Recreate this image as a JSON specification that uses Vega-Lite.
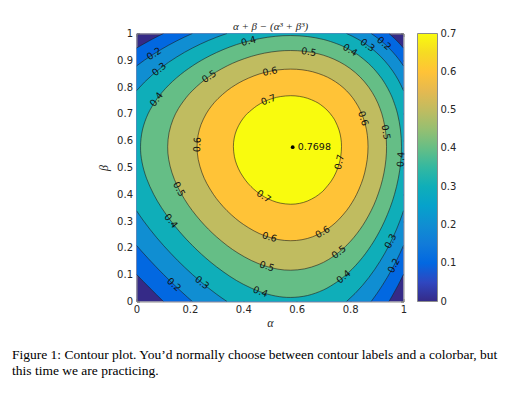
{
"$schema": "https://vega.github.io/schema/vega-lite/v6.json",
"width": 267, "height": 268,
"autosize": "none",
"padding": {"left": 136.5, "top": 33.5, "right": 110.5, "bottom": 96.5},
"background": "white",
"title": {"text": ["Figure 1: Contour plot.  You’d normally choose between contour labels and a colorbar, but", "this time we are practicing."], "orient": "bottom", "anchor": "start", "frame": "group", "align": "left", "dx": -124.5, "offset": 19, "font": "Liberation Serif", "fontSize": 13.5, "fontWeight": "normal", "color": "#000000", "lineHeight": 16},
"config": {
  "view": {"fill": "#352a87", "stroke": null},
  "axis": {"grid": false, "zindex": 1, "labelFlush": false, "labelFont": "DejaVu Sans", "labelFontSize": 10, "labelColor": "#262626", "domainColor": "#8c8c8c", "domainWidth": 1, "tickColor": "#555555", "tickWidth": 0.8},
  "legend": {"labelFont": "DejaVu Sans", "labelFontSize": 10, "labelColor": "#262626"}
},
"data": {"values": [
{"l":0.1,"s":"1BL","i":0,"a":0,"b":0.101},
{"l":0.1,"s":"1BL","i":1,"a":0.0254,"b":0.075},
{"l":0.1,"s":"1BL","i":2,"a":0.0501,"b":0.0501},
{"l":0.1,"s":"1BL","i":3,"a":0.075,"b":0.0254},
{"l":0.1,"s":"1BL","i":4,"a":0.101,"b":0},
{"l":0.1,"s":"1BR","i":5,"a":0.9457,"b":0},
{"l":0.1,"s":"1BR","i":6,"a":0.9573,"b":0.02},
{"l":0.1,"s":"1BR","i":7,"a":0.9685,"b":0.04},
{"l":0.1,"s":"1BR","i":8,"a":0.9793,"b":0.06},
{"l":0.1,"s":"1BR","i":9,"a":0.9896,"b":0.08},
{"l":0.1,"s":"1BR","i":10,"a":1,"b":0.101},
{"l":0.1,"s":"1TR","i":11,"a":1,"b":0.9457},
{"l":0.1,"s":"1TR","i":12,"a":0.99,"b":0.9571},
{"l":0.1,"s":"1TR","i":13,"a":0.98,"b":0.9679},
{"l":0.1,"s":"1TR","i":14,"a":0.974,"b":0.974},
{"l":0.1,"s":"1TR","i":15,"a":0.9679,"b":0.98},
{"l":0.1,"s":"1TR","i":16,"a":0.9571,"b":0.99},
{"l":0.1,"s":"1TR","i":17,"a":0.9457,"b":1},
{"l":0.1,"s":"1TL","i":18,"a":0.101,"b":1},
{"l":0.1,"s":"1TL","i":19,"a":0.08,"b":0.9896},
{"l":0.1,"s":"1TL","i":20,"a":0.06,"b":0.9793},
{"l":0.1,"s":"1TL","i":21,"a":0.04,"b":0.9685},
{"l":0.1,"s":"1TL","i":22,"a":0.02,"b":0.9573},
{"l":0.1,"s":"1TL","i":23,"a":0,"b":0.9457},
{"l":0.2,"s":"2BL","i":0,"a":0,"b":0.2092},
{"l":0.2,"s":"2BL","i":1,"a":0.0169,"b":0.19},
{"l":0.2,"s":"2BL","i":2,"a":0.0442,"b":0.16},
{"l":0.2,"s":"2BL","i":3,"a":0.0726,"b":0.13},
{"l":0.2,"s":"2BL","i":4,"a":0.101,"b":0.101},
{"l":0.2,"s":"2BL","i":5,"a":0.13,"b":0.0726},
{"l":0.2,"s":"2BL","i":6,"a":0.16,"b":0.0442},
{"l":0.2,"s":"2BL","i":7,"a":0.19,"b":0.0169},
{"l":0.2,"s":"2BL","i":8,"a":0.2092,"b":0},
{"l":0.2,"s":"2BR","i":9,"a":0.8789,"b":0},
{"l":0.2,"s":"2BR","i":10,"a":0.9007,"b":0.03},
{"l":0.2,"s":"2BR","i":11,"a":0.9207,"b":0.06},
{"l":0.2,"s":"2BR","i":12,"a":0.9392,"b":0.09},
{"l":0.2,"s":"2BR","i":13,"a":0.9563,"b":0.12},
{"l":0.2,"s":"2BR","i":14,"a":0.9722,"b":0.15},
{"l":0.2,"s":"2BR","i":15,"a":0.9868,"b":0.18},
{"l":0.2,"s":"2BR","i":16,"a":1,"b":0.2092},
{"l":0.2,"s":"2TR","i":17,"a":1,"b":0.8789},
{"l":0.2,"s":"2TR","i":18,"a":0.99,"b":0.8934},
{"l":0.2,"s":"2TR","i":19,"a":0.98,"b":0.9068},
{"l":0.2,"s":"2TR","i":20,"a":0.97,"b":0.9191},
{"l":0.2,"s":"2TR","i":21,"a":0.96,"b":0.9306},
{"l":0.2,"s":"2TR","i":22,"a":0.9457,"b":0.9457},
{"l":0.2,"s":"2TR","i":23,"a":0.9306,"b":0.96},
{"l":0.2,"s":"2TR","i":24,"a":0.9191,"b":0.97},
{"l":0.2,"s":"2TR","i":25,"a":0.9068,"b":0.98},
{"l":0.2,"s":"2TR","i":26,"a":0.8934,"b":0.99},
{"l":0.2,"s":"2TR","i":27,"a":0.8789,"b":1},
{"l":0.2,"s":"2TL","i":28,"a":0.2092,"b":1},
{"l":0.2,"s":"2TL","i":29,"a":0.18,"b":0.9868},
{"l":0.2,"s":"2TL","i":30,"a":0.15,"b":0.9722},
{"l":0.2,"s":"2TL","i":31,"a":0.12,"b":0.9563},
{"l":0.2,"s":"2TL","i":32,"a":0.09,"b":0.9392},
{"l":0.2,"s":"2TL","i":33,"a":0.06,"b":0.9207},
{"l":0.2,"s":"2TL","i":34,"a":0.03,"b":0.9007},
{"l":0.2,"s":"2TL","i":35,"a":0,"b":0.8789},
{"l":0.3,"s":"3BL","i":0,"a":0,"b":0.3389},
{"l":0.3,"s":"3BL","i":1,"a":0.0128,"b":0.32},
{"l":0.3,"s":"3BL","i":2,"a":0.027,"b":0.3},
{"l":0.3,"s":"3BL","i":3,"a":0.0498,"b":0.27},
{"l":0.3,"s":"3BL","i":4,"a":0.0742,"b":0.24},
{"l":0.3,"s":"3BL","i":5,"a":0.1003,"b":0.21},
{"l":0.3,"s":"3BL","i":6,"a":0.128,"b":0.18},
{"l":0.3,"s":"3BL","i":7,"a":0.1536,"b":0.1536},
{"l":0.3,"s":"3BL","i":8,"a":0.18,"b":0.128},
{"l":0.3,"s":"3BL","i":9,"a":0.21,"b":0.1003},
{"l":0.3,"s":"3BL","i":10,"a":0.24,"b":0.0742},
{"l":0.3,"s":"3BL","i":11,"a":0.27,"b":0.0498},
{"l":0.3,"s":"3BL","i":12,"a":0.3,"b":0.027},
{"l":0.3,"s":"3BL","i":13,"a":0.32,"b":0.0128},
{"l":0.3,"s":"3BL","i":14,"a":0.3389,"b":0},
{"l":0.3,"s":"3BR","i":15,"a":0.7865,"b":0},
{"l":0.3,"s":"3BR","i":16,"a":0.8186,"b":0.03},
{"l":0.3,"s":"3BR","i":17,"a":0.8463,"b":0.06},
{"l":0.3,"s":"3BR","i":18,"a":0.8706,"b":0.09},
{"l":0.3,"s":"3BR","i":19,"a":0.8924,"b":0.12},
{"l":0.3,"s":"3BR","i":20,"a":0.912,"b":0.15},
{"l":0.3,"s":"3BR","i":21,"a":0.9299,"b":0.18},
{"l":0.3,"s":"3BR","i":22,"a":0.9461,"b":0.21},
{"l":0.3,"s":"3BR","i":23,"a":0.9608,"b":0.24},
{"l":0.3,"s":"3BR","i":24,"a":0.9742,"b":0.27},
{"l":0.3,"s":"3BR","i":25,"a":0.9862,"b":0.3},
{"l":0.3,"s":"3BR","i":26,"a":0.9936,"b":0.32},
{"l":0.3,"s":"3BR","i":27,"a":1,"b":0.3389},
{"l":0.3,"s":"3TR","i":28,"a":1,"b":0.7865},
{"l":0.3,"s":"3TR","i":29,"a":0.99,"b":0.8082},
{"l":0.3,"s":"3TR","i":30,"a":0.98,"b":0.8272},
{"l":0.3,"s":"3TR","i":31,"a":0.97,"b":0.8441},
{"l":0.3,"s":"3TR","i":32,"a":0.96,"b":0.8594},
{"l":0.3,"s":"3TR","i":33,"a":0.945,"b":0.8797},
{"l":0.3,"s":"3TR","i":34,"a":0.93,"b":0.8976},
{"l":0.3,"s":"3TR","i":35,"a":0.9143,"b":0.9143},
{"l":0.3,"s":"3TR","i":36,"a":0.8976,"b":0.93},
{"l":0.3,"s":"3TR","i":37,"a":0.8797,"b":0.945},
{"l":0.3,"s":"3TR","i":38,"a":0.8594,"b":0.96},
{"l":0.3,"s":"3TR","i":39,"a":0.8441,"b":0.97},
{"l":0.3,"s":"3TR","i":40,"a":0.8272,"b":0.98},
{"l":0.3,"s":"3TR","i":41,"a":0.8082,"b":0.99},
{"l":0.3,"s":"3TR","i":42,"a":0.7865,"b":1},
{"l":0.3,"s":"3TL","i":43,"a":0.3389,"b":1},
{"l":0.3,"s":"3TL","i":44,"a":0.32,"b":0.9936},
{"l":0.3,"s":"3TL","i":45,"a":0.3,"b":0.9862},
{"l":0.3,"s":"3TL","i":46,"a":0.27,"b":0.9742},
{"l":0.3,"s":"3TL","i":47,"a":0.24,"b":0.9608},
{"l":0.3,"s":"3TL","i":48,"a":0.21,"b":0.9461},
{"l":0.3,"s":"3TL","i":49,"a":0.18,"b":0.9299},
{"l":0.3,"s":"3TL","i":50,"a":0.15,"b":0.912},
{"l":0.3,"s":"3TL","i":51,"a":0.12,"b":0.8924},
{"l":0.3,"s":"3TL","i":52,"a":0.09,"b":0.8706},
{"l":0.3,"s":"3TL","i":53,"a":0.06,"b":0.8463},
{"l":0.3,"s":"3TL","i":54,"a":0.03,"b":0.8186},
{"l":0.3,"s":"3TL","i":55,"a":0,"b":0.7865},
{"l":0.4,"s":"4","i":0,"a":0.2092,"b":0.2092},
{"l":0.4,"s":"4","i":1,"a":0.23,"b":0.1889},
{"l":0.4,"s":"4","i":2,"a":0.26,"b":0.1618},
{"l":0.4,"s":"4","i":3,"a":0.3,"b":0.1292},
{"l":0.4,"s":"4","i":4,"a":0.35,"b":0.0937},
{"l":0.4,"s":"4","i":5,"a":0.4,"b":0.0643},
{"l":0.4,"s":"4","i":6,"a":0.46,"b":0.0374},
{"l":0.4,"s":"4","i":7,"a":0.52,"b":0.0206},
{"l":0.4,"s":"4","i":8,"a":0.5774,"b":0.0151},
{"l":0.4,"s":"4","i":9,"a":0.64,"b":0.0222},
{"l":0.4,"s":"4","i":10,"a":0.7,"b":0.0431},
{"l":0.4,"s":"4","i":11,"a":0.75,"b":0.0723},
{"l":0.4,"s":"4","i":12,"a":0.78,"b":0.0954},
{"l":0.4,"s":"4","i":13,"a":0.8075,"b":0.1208},
{"l":0.4,"s":"4","i":14,"a":0.8345,"b":0.15},
{"l":0.4,"s":"4","i":15,"a":0.8585,"b":0.18},
{"l":0.4,"s":"4","i":16,"a":0.8789,"b":0.2092},
{"l":0.4,"s":"4","i":17,"a":0.8921,"b":0.23},
{"l":0.4,"s":"4","i":18,"a":0.9092,"b":0.26},
{"l":0.4,"s":"4","i":19,"a":0.9291,"b":0.3},
{"l":0.4,"s":"4","i":20,"a":0.9499,"b":0.35},
{"l":0.4,"s":"4","i":21,"a":0.9663,"b":0.4},
{"l":0.4,"s":"4","i":22,"a":0.9808,"b":0.46},
{"l":0.4,"s":"4","i":23,"a":0.9895,"b":0.52},
{"l":0.4,"s":"4","i":24,"a":0.9924,"b":0.5774},
{"l":0.4,"s":"4","i":25,"a":0.9887,"b":0.64},
{"l":0.4,"s":"4","i":26,"a":0.9778,"b":0.7},
{"l":0.4,"s":"4","i":27,"a":0.9619,"b":0.75},
{"l":0.4,"s":"4","i":28,"a":0.9489,"b":0.78},
{"l":0.4,"s":"4","i":29,"a":0.9326,"b":0.81},
{"l":0.4,"s":"4","i":30,"a":0.9125,"b":0.84},
{"l":0.4,"s":"4","i":31,"a":0.8789,"b":0.8789},
{"l":0.4,"s":"4","i":32,"a":0.84,"b":0.9125},
{"l":0.4,"s":"4","i":33,"a":0.81,"b":0.9326},
{"l":0.4,"s":"4","i":34,"a":0.78,"b":0.9489},
{"l":0.4,"s":"4","i":35,"a":0.75,"b":0.9619},
{"l":0.4,"s":"4","i":36,"a":0.7,"b":0.9778},
{"l":0.4,"s":"4","i":37,"a":0.64,"b":0.9887},
{"l":0.4,"s":"4","i":38,"a":0.5774,"b":0.9924},
{"l":0.4,"s":"4","i":39,"a":0.52,"b":0.9895},
{"l":0.4,"s":"4","i":40,"a":0.46,"b":0.9808},
{"l":0.4,"s":"4","i":41,"a":0.4,"b":0.9663},
{"l":0.4,"s":"4","i":42,"a":0.35,"b":0.9499},
{"l":0.4,"s":"4","i":43,"a":0.3,"b":0.9291},
{"l":0.4,"s":"4","i":44,"a":0.26,"b":0.9092},
{"l":0.4,"s":"4","i":45,"a":0.23,"b":0.8921},
{"l":0.4,"s":"4","i":46,"a":0.2092,"b":0.8789},
{"l":0.4,"s":"4","i":47,"a":0.18,"b":0.8585},
{"l":0.4,"s":"4","i":48,"a":0.15,"b":0.8345},
{"l":0.4,"s":"4","i":49,"a":0.1208,"b":0.8075},
{"l":0.4,"s":"4","i":50,"a":0.0954,"b":0.78},
{"l":0.4,"s":"4","i":51,"a":0.0723,"b":0.75},
{"l":0.4,"s":"4","i":52,"a":0.0431,"b":0.7},
{"l":0.4,"s":"4","i":53,"a":0.0222,"b":0.64},
{"l":0.4,"s":"4","i":54,"a":0.0151,"b":0.5774},
{"l":0.4,"s":"4","i":55,"a":0.0206,"b":0.52},
{"l":0.4,"s":"4","i":56,"a":0.0374,"b":0.46},
{"l":0.4,"s":"4","i":57,"a":0.0643,"b":0.4},
{"l":0.4,"s":"4","i":58,"a":0.0937,"b":0.35},
{"l":0.4,"s":"4","i":59,"a":0.1292,"b":0.3},
{"l":0.4,"s":"4","i":60,"a":0.1618,"b":0.26},
{"l":0.4,"s":"4","i":61,"a":0.1889,"b":0.23},
{"l":0.5,"s":"5","i":0,"a":0.2696,"b":0.2696},
{"l":0.5,"s":"5","i":1,"a":0.3,"b":0.241},
{"l":0.5,"s":"5","i":2,"a":0.34,"b":0.2083},
{"l":0.5,"s":"5","i":3,"a":0.38,"b":0.1808},
{"l":0.5,"s":"5","i":4,"a":0.43,"b":0.1531},
{"l":0.5,"s":"5","i":5,"a":0.48,"b":0.133},
{"l":0.5,"s":"5","i":6,"a":0.53,"b":0.1206},
{"l":0.5,"s":"5","i":7,"a":0.5774,"b":0.1167},
{"l":0.5,"s":"5","i":8,"a":0.63,"b":0.1219},
{"l":0.5,"s":"5","i":9,"a":0.68,"b":0.137},
{"l":0.5,"s":"5","i":10,"a":0.72,"b":0.1571},
{"l":0.5,"s":"5","i":11,"a":0.76,"b":0.1854},
{"l":0.5,"s":"5","i":12,"a":0.7887,"b":0.2113},
{"l":0.5,"s":"5","i":13,"a":0.8148,"b":0.24},
{"l":0.5,"s":"5","i":14,"a":0.8379,"b":0.27},
{"l":0.5,"s":"5","i":15,"a":0.8575,"b":0.3},
{"l":0.5,"s":"5","i":16,"a":0.8794,"b":0.34},
{"l":0.5,"s":"5","i":17,"a":0.8973,"b":0.38},
{"l":0.5,"s":"5","i":18,"a":0.9146,"b":0.43},
{"l":0.5,"s":"5","i":19,"a":0.9269,"b":0.48},
{"l":0.5,"s":"5","i":20,"a":0.9342,"b":0.53},
{"l":0.5,"s":"5","i":21,"a":0.9365,"b":0.5774},
{"l":0.5,"s":"5","i":22,"a":0.9335,"b":0.63},
{"l":0.5,"s":"5","i":23,"a":0.9244,"b":0.68},
{"l":0.5,"s":"5","i":24,"a":0.9121,"b":0.72},
{"l":0.5,"s":"5","i":25,"a":0.8944,"b":0.76},
{"l":0.5,"s":"5","i":26,"a":0.8696,"b":0.8},
{"l":0.5,"s":"5","i":27,"a":0.8376,"b":0.8376},
{"l":0.5,"s":"5","i":28,"a":0.8,"b":0.8696},
{"l":0.5,"s":"5","i":29,"a":0.76,"b":0.8944},
{"l":0.5,"s":"5","i":30,"a":0.72,"b":0.9121},
{"l":0.5,"s":"5","i":31,"a":0.68,"b":0.9244},
{"l":0.5,"s":"5","i":32,"a":0.63,"b":0.9335},
{"l":0.5,"s":"5","i":33,"a":0.5774,"b":0.9365},
{"l":0.5,"s":"5","i":34,"a":0.53,"b":0.9342},
{"l":0.5,"s":"5","i":35,"a":0.48,"b":0.9269},
{"l":0.5,"s":"5","i":36,"a":0.43,"b":0.9146},
{"l":0.5,"s":"5","i":37,"a":0.38,"b":0.8973},
{"l":0.5,"s":"5","i":38,"a":0.34,"b":0.8794},
{"l":0.5,"s":"5","i":39,"a":0.3,"b":0.8575},
{"l":0.5,"s":"5","i":40,"a":0.27,"b":0.8379},
{"l":0.5,"s":"5","i":41,"a":0.24,"b":0.8148},
{"l":0.5,"s":"5","i":42,"a":0.2113,"b":0.7887},
{"l":0.5,"s":"5","i":43,"a":0.1854,"b":0.76},
{"l":0.5,"s":"5","i":44,"a":0.1571,"b":0.72},
{"l":0.5,"s":"5","i":45,"a":0.137,"b":0.68},
{"l":0.5,"s":"5","i":46,"a":0.1219,"b":0.63},
{"l":0.5,"s":"5","i":47,"a":0.1167,"b":0.5774},
{"l":0.5,"s":"5","i":48,"a":0.1206,"b":0.53},
{"l":0.5,"s":"5","i":49,"a":0.133,"b":0.48},
{"l":0.5,"s":"5","i":50,"a":0.1531,"b":0.43},
{"l":0.5,"s":"5","i":51,"a":0.1808,"b":0.38},
{"l":0.5,"s":"5","i":52,"a":0.2083,"b":0.34},
{"l":0.5,"s":"5","i":53,"a":0.241,"b":0.3},
{"l":0.6,"s":"6","i":0,"a":0.3389,"b":0.3389},
{"l":0.6,"s":"6","i":1,"a":0.37,"b":0.3106},
{"l":0.6,"s":"6","i":2,"a":0.4,"b":0.2879},
{"l":0.6,"s":"6","i":3,"a":0.44,"b":0.2635},
{"l":0.6,"s":"6","i":4,"a":0.48,"b":0.2454},
{"l":0.6,"s":"6","i":5,"a":0.53,"b":0.2312},
{"l":0.6,"s":"6","i":6,"a":0.5774,"b":0.2268},
{"l":0.6,"s":"6","i":7,"a":0.62,"b":0.2306},
{"l":0.6,"s":"6","i":8,"a":0.66,"b":0.2416},
{"l":0.6,"s":"6","i":9,"a":0.7,"b":0.2607},
{"l":0.6,"s":"6","i":10,"a":0.73,"b":0.2813},
{"l":0.6,"s":"6","i":11,"a":0.7572,"b":0.3055},
{"l":0.6,"s":"6","i":12,"a":0.7873,"b":0.34},
{"l":0.6,"s":"6","i":13,"a":0.8078,"b":0.37},
{"l":0.6,"s":"6","i":14,"a":0.8245,"b":0.4},
{"l":0.6,"s":"6","i":15,"a":0.8419,"b":0.44},
{"l":0.6,"s":"6","i":16,"a":0.8545,"b":0.48},
{"l":0.6,"s":"6","i":17,"a":0.8641,"b":0.53},
{"l":0.6,"s":"6","i":18,"a":0.8671,"b":0.5774},
{"l":0.6,"s":"6","i":19,"a":0.8646,"b":0.62},
{"l":0.6,"s":"6","i":20,"a":0.8571,"b":0.66},
{"l":0.6,"s":"6","i":21,"a":0.8438,"b":0.7},
{"l":0.6,"s":"6","i":22,"a":0.8292,"b":0.73},
{"l":0.6,"s":"6","i":23,"a":0.8096,"b":0.76},
{"l":0.6,"s":"6","i":24,"a":0.7865,"b":0.7865},
{"l":0.6,"s":"6","i":25,"a":0.76,"b":0.8096},
{"l":0.6,"s":"6","i":26,"a":0.73,"b":0.8292},
{"l":0.6,"s":"6","i":27,"a":0.7,"b":0.8438},
{"l":0.6,"s":"6","i":28,"a":0.66,"b":0.8571},
{"l":0.6,"s":"6","i":29,"a":0.62,"b":0.8646},
{"l":0.6,"s":"6","i":30,"a":0.5774,"b":0.8671},
{"l":0.6,"s":"6","i":31,"a":0.53,"b":0.8641},
{"l":0.6,"s":"6","i":32,"a":0.48,"b":0.8545},
{"l":0.6,"s":"6","i":33,"a":0.44,"b":0.8419},
{"l":0.6,"s":"6","i":34,"a":0.4,"b":0.8245},
{"l":0.6,"s":"6","i":35,"a":0.37,"b":0.8078},
{"l":0.6,"s":"6","i":36,"a":0.34,"b":0.7873},
{"l":0.6,"s":"6","i":37,"a":0.3055,"b":0.7572},
{"l":0.6,"s":"6","i":38,"a":0.2813,"b":0.73},
{"l":0.6,"s":"6","i":39,"a":0.2607,"b":0.7},
{"l":0.6,"s":"6","i":40,"a":0.2416,"b":0.66},
{"l":0.6,"s":"6","i":41,"a":0.2306,"b":0.62},
{"l":0.6,"s":"6","i":42,"a":0.2268,"b":0.5774},
{"l":0.6,"s":"6","i":43,"a":0.2312,"b":0.53},
{"l":0.6,"s":"6","i":44,"a":0.2454,"b":0.48},
{"l":0.6,"s":"6","i":45,"a":0.2635,"b":0.44},
{"l":0.6,"s":"6","i":46,"a":0.2879,"b":0.4},
{"l":0.6,"s":"6","i":47,"a":0.3106,"b":0.37},
{"l":0.7,"s":"7","i":0,"a":0.4289,"b":0.4289},
{"l":0.7,"s":"7","i":1,"a":0.45,"b":0.4101},
{"l":0.7,"s":"7","i":2,"a":0.48,"b":0.3898},
{"l":0.7,"s":"7","i":3,"a":0.51,"b":0.3757},
{"l":0.7,"s":"7","i":4,"a":0.54,"b":0.3668},
{"l":0.7,"s":"7","i":5,"a":0.5774,"b":0.3629},
{"l":0.7,"s":"7","i":6,"a":0.61,"b":0.366},
{"l":0.7,"s":"7","i":7,"a":0.64,"b":0.3748},
{"l":0.7,"s":"7","i":8,"a":0.67,"b":0.3902},
{"l":0.7,"s":"7","i":9,"a":0.69,"b":0.4049},
{"l":0.7,"s":"7","i":10,"a":0.7024,"b":0.4163},
{"l":0.7,"s":"7","i":11,"a":0.7298,"b":0.45},
{"l":0.7,"s":"7","i":12,"a":0.7464,"b":0.48},
{"l":0.7,"s":"7","i":13,"a":0.7578,"b":0.51},
{"l":0.7,"s":"7","i":14,"a":0.7648,"b":0.54},
{"l":0.7,"s":"7","i":15,"a":0.7679,"b":0.5774},
{"l":0.7,"s":"7","i":16,"a":0.7654,"b":0.61},
{"l":0.7,"s":"7","i":17,"a":0.7585,"b":0.64},
{"l":0.7,"s":"7","i":18,"a":0.7461,"b":0.67},
{"l":0.7,"s":"7","i":19,"a":0.7341,"b":0.69},
{"l":0.7,"s":"7","i":20,"a":0.714,"b":0.714},
{"l":0.7,"s":"7","i":21,"a":0.69,"b":0.7341},
{"l":0.7,"s":"7","i":22,"a":0.67,"b":0.7461},
{"l":0.7,"s":"7","i":23,"a":0.64,"b":0.7585},
{"l":0.7,"s":"7","i":24,"a":0.61,"b":0.7654},
{"l":0.7,"s":"7","i":25,"a":0.5774,"b":0.7679},
{"l":0.7,"s":"7","i":26,"a":0.54,"b":0.7648},
{"l":0.7,"s":"7","i":27,"a":0.51,"b":0.7578},
{"l":0.7,"s":"7","i":28,"a":0.48,"b":0.7464},
{"l":0.7,"s":"7","i":29,"a":0.45,"b":0.7298},
{"l":0.7,"s":"7","i":30,"a":0.4163,"b":0.7024},
{"l":0.7,"s":"7","i":31,"a":0.4049,"b":0.69},
{"l":0.7,"s":"7","i":32,"a":0.3902,"b":0.67},
{"l":0.7,"s":"7","i":33,"a":0.3748,"b":0.64},
{"l":0.7,"s":"7","i":34,"a":0.366,"b":0.61},
{"l":0.7,"s":"7","i":35,"a":0.3629,"b":0.5774},
{"l":0.7,"s":"7","i":36,"a":0.3668,"b":0.54},
{"l":0.7,"s":"7","i":37,"a":0.3757,"b":0.51},
{"l":0.7,"s":"7","i":38,"a":0.3898,"b":0.48},
{"l":0.7,"s":"7","i":39,"a":0.4101,"b":0.45}
]},
"encoding": {
  "x": {"field": "a", "type": "quantitative", "scale": {"domain": [0, 1], "nice": false}, "axis": null},
  "y": {"field": "b", "type": "quantitative", "scale": {"domain": [0, 1], "nice": false}, "axis": null}
},
"resolve": {"axis": {"x": "independent", "y": "independent"}},
"layer": [
  {
    "encoding": {
      "order": {"field": "i", "type": "quantitative"},
      "fill": {"field": "l", "type": "quantitative",
        "scale": {"type": "linear", "domain": [0, 0.05, 0.1, 0.15, 0.2, 0.25, 0.3, 0.35, 0.4, 0.45, 0.5, 0.55, 0.6, 0.65, 0.7],
          "range": ["#352a87", "#2f47c0", "#0268e1", "#117bd9", "#108ed2", "#06a2cb", "#0faeb9", "#33b8a1", "#65be86", "#96bf71", "#c0bc60", "#e5b950", "#ffc337", "#f6db23", "#f9fb0e"]},
        "legend": {"orient": "right", "offset": 13, "padding": 0, "title": null, "type": "gradient", "direction": "vertical", "gradientLength": 268, "gradientThickness": 20, "gradientStrokeColor": "#8c8c8c", "gradientStrokeWidth": 1, "values": [0, 0.1, 0.2, 0.3, 0.4, 0.5, 0.6, 0.7], "format": "~g", "labelOffset": 3, "labelBaseline": "middle",
          "encode": {"labels": {"update": {"baseline": {"value": "middle"}}}}}}
    },
    "layer": [
      {"transform": [{"filter": "datum.l == 0.1"}], "mark": {"type": "line", "strokeWidth": 0, "clip": true}},
      {"transform": [{"filter": "datum.l == 0.2"}], "mark": {"type": "line", "strokeWidth": 0, "clip": true}},
      {"transform": [{"filter": "datum.l == 0.3"}], "mark": {"type": "line", "strokeWidth": 0, "clip": true}},
      {"transform": [{"filter": "datum.l == 0.4"}], "mark": {"type": "line", "interpolate": "cardinal-closed", "strokeWidth": 0, "clip": true}},
      {"transform": [{"filter": "datum.l == 0.5"}], "mark": {"type": "line", "interpolate": "cardinal-closed", "strokeWidth": 0, "clip": true}},
      {"transform": [{"filter": "datum.l == 0.6"}], "mark": {"type": "line", "interpolate": "cardinal-closed", "strokeWidth": 0, "clip": true}},
      {"transform": [{"filter": "datum.l == 0.7"}], "mark": {"type": "line", "interpolate": "cardinal-closed", "strokeWidth": 0, "clip": true}}
    ]
  },
  {
    "transform": [{"filter": "datum.l < 0.35"}],
    "mark": {"type": "line", "stroke": "#1e1e1e", "strokeWidth": 0.6, "clip": true},
    "encoding": {"detail": {"field": "s", "type": "nominal"}, "order": {"field": "i", "type": "quantitative"}}
  },
  {
    "transform": [{"filter": "datum.l > 0.35"}],
    "mark": {"type": "line", "interpolate": "cardinal-closed", "stroke": "#1e1e1e", "strokeWidth": 0.6, "clip": true},
    "encoding": {"detail": {"field": "s", "type": "nominal"}, "order": {"field": "i", "type": "quantitative"}}
  },
  {
    "data": {"values": [
      {"t": "0.2", "a": 0.066, "b": 0.924, "r": -32},
      {"t": "0.3", "a": 0.085, "b": 0.866, "r": -39},
      {"t": "0.4", "a": 0.075, "b": 0.754, "r": -52},
      {"t": "0.5", "a": 0.272, "b": 0.839, "r": -33},
      {"t": "0.4", "a": 0.42, "b": 0.971, "r": -14},
      {"t": "0.6", "a": 0.5, "b": 0.858, "r": -11},
      {"t": "0.7", "a": 0.494, "b": 0.752, "r": -21},
      {"t": "0.6", "a": 0.228, "b": 0.585, "r": -88},
      {"t": "0.3", "a": 0.865, "b": 0.956, "r": 36},
      {"t": "0.2", "a": 0.927, "b": 0.963, "r": 41},
      {"t": "0.4", "a": 0.8, "b": 0.938, "r": 31},
      {"t": "0.5", "a": 0.645, "b": 0.931, "r": 10},
      {"t": "0.6", "a": 0.849, "b": 0.683, "r": 72},
      {"t": "0.5", "a": 0.9335, "b": 0.632, "r": 80},
      {"t": "0.4", "a": 0.99, "b": 0.53, "r": -87},
      {"t": "0.7", "a": 0.76, "b": 0.52, "r": -77},
      {"t": "0.5", "a": 0.159, "b": 0.419, "r": 61},
      {"t": "0.4", "a": 0.129, "b": 0.3, "r": 51},
      {"t": "0.2", "a": 0.14, "b": 0.063, "r": 43},
      {"t": "0.3", "a": 0.245, "b": 0.07, "r": 39},
      {"t": "0.4", "a": 0.464, "b": 0.036, "r": 20},
      {"t": "0.5", "a": 0.488, "b": 0.131, "r": 18},
      {"t": "0.6", "a": 0.498, "b": 0.24, "r": 16},
      {"t": "0.7", "a": 0.476, "b": 0.392, "r": 34},
      {"t": "0.6", "a": 0.697, "b": 0.259, "r": -31},
      {"t": "0.5", "a": 0.758, "b": 0.184, "r": -38},
      {"t": "0.4", "a": 0.776, "b": 0.092, "r": -40},
      {"t": "0.3", "a": 0.952, "b": 0.225, "r": -64},
      {"t": "0.2", "a": 0.964, "b": 0.134, "r": -62}
    ]},
    "mark": {"type": "text", "font": "DejaVu Sans", "fontSize": 9.5, "color": "#111111", "align": "center", "baseline": "middle"},
    "encoding": {"text": {"field": "t", "type": "nominal"}, "angle": {"field": "r", "type": "quantitative", "scale": null}}
  },
  {
    "data": {"values": [{"a": 0.585, "b": 0.576, "t": "0.7698"}]},
    "layer": [
      {
        "mark": {"type": "point", "filled": true, "size": 14, "color": "#000000", "opacity": 1},
        "encoding": {
          "x": {"field": "a", "type": "quantitative", "scale": {"domain": [0, 1], "nice": false},
            "axis": {"orient": "bottom", "values": [0, 0.2, 0.4, 0.6, 0.8, 1], "format": "~g", "tickSize": -3, "labelPadding": 6, "labelFlush": false, "title": "α", "titleFont": "Liberation Serif", "titleFontStyle": "italic", "titleFontWeight": "normal", "titleFontSize": 12, "titleColor": "#262626", "titlePadding": 3}},
          "y": {"field": "b", "type": "quantitative", "scale": {"domain": [0, 1], "nice": false},
            "axis": {"orient": "left", "values": [0, 0.1, 0.2, 0.3, 0.4, 0.5, 0.6, 0.7, 0.8, 0.9, 1], "format": "~g", "tickSize": -3, "labelPadding": 7, "labelFlush": false, "title": "β", "titleFont": "Liberation Serif", "titleFontStyle": "italic", "titleFontWeight": "normal", "titleFontSize": 12, "titleColor": "#262626", "titlePadding": 6}}
        }
      },
      {
        "mark": {"type": "text", "align": "left", "baseline": "middle", "dx": 5, "font": "DejaVu Sans", "fontSize": 9.5, "color": "#111111"},
        "encoding": {
          "text": {"field": "t", "type": "nominal"},
          "x": {"field": "a", "type": "quantitative", "scale": {"domain": [0, 1], "nice": false},
            "axis": {"orient": "top", "values": [0, 0.2, 0.4, 0.6, 0.8, 1], "labels": false, "tickSize": -3, "title": "α + β − (α³ + β³)", "titleFont": "Liberation Serif", "titleFontWeight": "normal", "titleFontStyle": "italic", "titleFontSize": 11, "titleColor": "#262626", "titlePadding": 2}},
          "y": {"field": "b", "type": "quantitative", "scale": {"domain": [0, 1], "nice": false},
            "axis": {"orient": "right", "values": [0, 0.1, 0.2, 0.3, 0.4, 0.5, 0.6, 0.7, 0.8, 0.9, 1], "labels": false, "tickSize": -3, "title": null}}
        }
      }
    ]
  }
]
}
